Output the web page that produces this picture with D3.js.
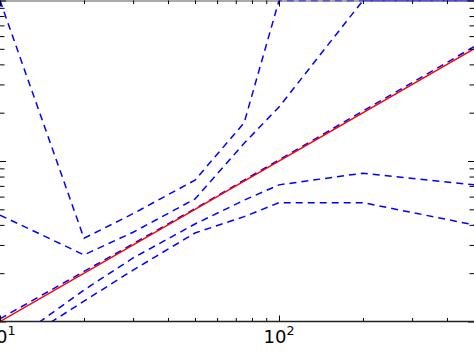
<!DOCTYPE html>
<html>
<head>
<meta charset="utf-8">
<script src="https://cdn.jsdelivr.net/npm/d3@7"></script>
<style>
  body { margin: 0; background: #fff; }
  svg { display: block; font-family: "DejaVu Sans", sans-serif; }
</style>
</head>
<body>
<svg id="chart"></svg>
<script>
let width = 474, height = 353;

// problem sizes on the x axis
let sizes = [10, 20, 30, 50, 75, 100, 200, 500];
// iteration counts for each run (capped at 1000)
let runA = [1000, 33, 47, 76, 173, 1000, 1000, 1000];
let runB = [46, 26, 36, 58, 129, 217, 1000, 1000];
let runC = [10.4, 20.5, 30.5, 50.5, 76, 101.5, 205, 515];
let runD = [6.6, 15.7, 24.9, 40.5, 57, 71, 84, 71];
let runE = [6.2, 13.4, 20.9, 35.6, 45, 55, 55, 40];
// reference line y = x
let refX = [10, 500];
let refY = [10, 500];

let xMajor = [10, 100];
let xMinor = [20, 30, 40, 50, 60, 70, 80, 90, 200, 300, 400];
let yMajor = [10, 100, 1000];
let yMinor = [20, 30, 40, 50, 60, 70, 80, 90, 200, 300, 400, 500, 600, 700, 800, 900];
let xLabels = ["1", "2"]; // exponents of 10

let plot = {left: 0, right: 474, top: 0.5, bottom: 321.5};

let svg = d3.select("#chart")
  .attr("width", width)
  .attr("height", height);

let x = d3.scaleLog().domain([10, 500]).range([plot.left, plot.right]);
let y = d3.scaleLog().domain([10, 1000]).range([plot.bottom, plot.top]);

svg.append("clipPath").attr("id", "clip")
  .append("rect")
  .attr("x", plot.left).attr("y", plot.top)
  .attr("width", plot.right - plot.left)
  .attr("height", plot.bottom - plot.top);

// top spine, mostly cropped so it shows up light
svg.append("line")
  .attr("x1", 0).attr("x2", width)
  .attr("y1", 1).attr("y2", 1)
  .attr("stroke", "#aaa")
  .attr("stroke-width", 2);

let line = d3.line()
  .x(d => x(d[0]))
  .y(d => y(d[1]));

let gLines = svg.append("g").attr("clip-path", "url(#clip)");

[runA, runB, runC, runD, runE].forEach(run => {
  gLines.append("path")
    .datum(sizes.map((s, i) => [s, run[i]]))
    .attr("fill", "none")
    .attr("stroke", "#0000ff")
    .attr("stroke-width", 1.5)
    .attr("stroke-dasharray", "7,5")
    .attr("d", line);
});

gLines.append("path")
  .datum(refX.map((s, i) => [s, refY[i]]))
  .attr("fill", "none")
  .attr("stroke", "#ff0000")
  .attr("stroke-width", 1.5)
  .attr("d", line);

// ticks on all four sides, pointing inward
const addAxis = (axis, values, size, transform) => {
  let g = svg.append("g")
    .attr("transform", transform)
    .call(axis.tickValues(values).tickSize(size).tickSizeOuter(0).tickFormat(""));
  g.select(".domain").remove();
  g.selectAll("line").attr("stroke", "#000").attr("stroke-width", 1);
};

addAxis(d3.axisBottom(x), xMajor, -6, "translate(0," + plot.bottom + ")");
addAxis(d3.axisBottom(x), xMinor, -3.5, "translate(0," + plot.bottom + ")");
addAxis(d3.axisTop(x), xMajor, -6, "translate(0," + plot.top + ")");
addAxis(d3.axisTop(x), xMinor, -3.5, "translate(0," + plot.top + ")");
addAxis(d3.axisLeft(y), yMajor, -6, "translate(" + plot.left + ",0)");
addAxis(d3.axisLeft(y), yMinor, -4.5, "translate(" + plot.left + ",0)");
addAxis(d3.axisRight(y), yMajor, -6, "translate(" + plot.right + ",0)");
addAxis(d3.axisRight(y), yMinor, -4.5, "translate(" + plot.right + ",0)");

// bottom spine
svg.append("line")
  .attr("x1", 0).attr("x2", width)
  .attr("y1", plot.bottom).attr("y2", plot.bottom)
  .attr("stroke", "#222")
  .attr("stroke-width", 1.5);

// x tick labels 10^n
xMajor.forEach((v, i) => {
  let t = svg.append("text")
    .attr("x", x(v))
    .attr("y", 343)
    .attr("text-anchor", "middle")
    .attr("font-size", 18)
    .attr("fill", "#000");
  t.append("tspan").text("10");
  t.append("tspan").attr("dy", -8).attr("font-size", 12.6).text(xLabels[i]);
});
</script>
</body>
</html>
